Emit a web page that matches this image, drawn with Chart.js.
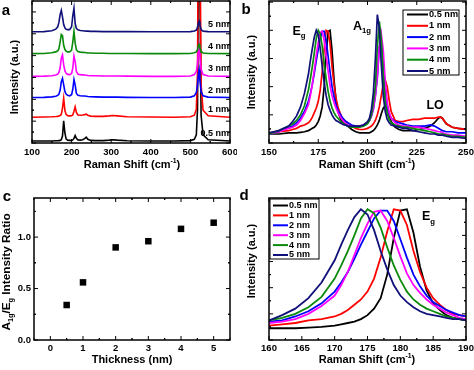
<!DOCTYPE html>
<html>
<head>
<meta charset="utf-8">
<script src="https://cdn.jsdelivr.net/npm/chart.js@4.4.0/dist/chart.umd.min.js"></script>
<style>
  body { margin: 0; background: #fff; width: 474px; height: 370px; position: relative; overflow: hidden; }
  canvas { position: absolute; }
</style>
</head>
<body>
<canvas id="chartA" width="237" height="185" style="left:0;top:0"></canvas>
<canvas id="chartB" width="237" height="185" style="left:237px;top:0"></canvas>
<canvas id="chartC" width="237" height="185" style="left:0;top:185px"></canvas>
<canvas id="chartD" width="237" height="185" style="left:237px;top:185px"></canvas>
<script>
const FONT = '"Liberation Sans", Arial, sans-serif';
const COLORS = ['#000000', '#ff0000', '#0000ff', '#ff00ff', '#0a8a0a', '#10107a'];
const thicknessLabels = ['0.5 nm', '1 nm', '2 nm', '3 nm', '4 nm', '5 nm'];

// panel a: full spectra, stacked
const shiftA = [100, 130, 150, 160, 165, 168, 171, 174, 177, 180, 183, 186, 190, 195, 200,
  203, 206, 209, 212, 216, 222, 228, 233, 237, 241, 248, 260, 280, 295, 305,
  315, 340, 400, 460, 500, 510, 515, 518, 520, 522, 524, 527, 532, 545, 600];
const specA05 = [0.02, 0.02, 0.02, 0.03, 0.03, 0.04, 0.05, 0.08, 0.25, 0.95, 0.4, 0.12, 0.06, 0.05, 0.05,
  0.07, 0.14, 0.27, 0.14, 0.07, 0.06, 0.08, 0.13, 0.2, 0.1, 0.05, 0.04, 0.04, 0.06, 0.08,
  0.06, 0.03, 0.02, 0.02, 0.04, 0.1, 0.3, 1.5, 8, 20, 7, 1.2, 0.3, 0.08, 0.02];
const specA1 = [0.03, 0.04, 0.05, 0.06, 0.07, 0.09, 0.11, 0.16, 0.45, 0.9, 0.35, 0.16, 0.1, 0.09, 0.1,
  0.13, 0.3, 0.5, 0.25, 0.13, 0.12, 0.13, 0.15, 0.17, 0.12, 0.08, 0.07, 0.07, 0.09, 0.11,
  0.09, 0.05, 0.04, 0.03, 0.05, 0.12, 0.4, 2, 10, 20, 9, 1.5, 0.35, 0.1, 0.03];
const specA2 = [0.02, 0.03, 0.05, 0.08, 0.12, 0.18, 0.35, 0.75, 0.9, 0.6, 0.3, 0.18, 0.12, 0.1, 0.15,
  0.4, 0.85, 0.6, 0.22, 0.12, 0.1, 0.09, 0.09, 0.08, 0.07, 0.06, 0.05, 0.04, 0.04, 0.04,
  0.04, 0.03, 0.02, 0.02, 0.04, 0.1, 0.25, 0.6, 1.1, 1.3, 0.8, 0.3, 0.1, 0.04, 0.02];
const specA3 = [0.02, 0.03, 0.05, 0.08, 0.12, 0.2, 0.4, 0.85, 1.0, 0.55, 0.28, 0.16, 0.11, 0.1, 0.15,
  0.4, 0.95, 0.7, 0.25, 0.12, 0.1, 0.09, 0.08, 0.07, 0.06, 0.05, 0.05, 0.04, 0.04, 0.04,
  0.04, 0.03, 0.02, 0.02, 0.04, 0.1, 0.25, 0.6, 1.2, 1.4, 0.9, 0.35, 0.1, 0.04, 0.02];
const specA4 = [0.02, 0.03, 0.06, 0.1, 0.15, 0.25, 0.55, 0.9, 0.85, 0.4, 0.22, 0.14, 0.1, 0.1, 0.18,
  0.55, 1.05, 0.5, 0.2, 0.12, 0.09, 0.08, 0.07, 0.06, 0.05, 0.05, 0.04, 0.04, 0.03, 0.03,
  0.03, 0.03, 0.02, 0.02, 0.03, 0.06, 0.1, 0.2, 0.4, 0.45, 0.3, 0.12, 0.05, 0.03, 0.02];
const specA5 = [0.02, 0.03, 0.07, 0.14, 0.25, 0.45, 0.8, 1.0, 0.7, 0.35, 0.2, 0.14, 0.12, 0.12, 0.25,
  0.75, 1.1, 0.4, 0.18, 0.11, 0.08, 0.07, 0.06, 0.05, 0.05, 0.04, 0.04, 0.03, 0.03, 0.03,
  0.03, 0.03, 0.02, 0.02, 0.03, 0.06, 0.1, 0.22, 0.42, 0.5, 0.32, 0.12, 0.05, 0.03, 0.02];
const offsetsA = [0.07, 1.15, 2.06, 3.03, 4.07, 5.07];

// panels b and d: normalised spectra (Eg peak = 1)
const shiftB = [150, 155, 160, 162, 164, 166, 168, 170, 171, 172, 173, 174, 175, 176, 177,
  178, 179, 180, 181, 182, 183, 184, 185, 186, 187, 188, 189, 190, 192, 194,
  196, 198, 200, 201, 202, 203, 204, 205, 206, 207, 208, 209, 210, 211, 212,
  214, 216, 218, 220, 223, 226, 229, 232, 234, 236, 237, 238, 240, 243, 246, 250];
const specB05 = [0.08, 0.08, 0.09, 0.09, 0.09, 0.095, 0.1, 0.11, 0.12, 0.13, 0.14, 0.16, 0.19, 0.24, 0.32,
  0.5, 0.78, 0.99, 1.0, 0.82, 0.56, 0.38, 0.28, 0.23, 0.19, 0.17, 0.16, 0.15, 0.12, 0.1,
  0.09, 0.09, 0.09, 0.09, 0.1, 0.11, 0.13, 0.16, 0.2, 0.26, 0.31, 0.33, 0.31, 0.25, 0.19,
  0.14, 0.12, 0.11, 0.11, 0.11, 0.12, 0.13, 0.15, 0.18, 0.22, 0.23, 0.22, 0.17, 0.14, 0.13, 0.12];
const specB1 = [0.09, 0.1, 0.11, 0.12, 0.13, 0.15, 0.16, 0.18, 0.2, 0.23, 0.27, 0.31, 0.37, 0.47, 0.63,
  0.83, 1.0, 0.99, 0.88, 0.68, 0.52, 0.4, 0.32, 0.27, 0.23, 0.2, 0.19, 0.18, 0.15, 0.13,
  0.12, 0.12, 0.13, 0.14, 0.15, 0.17, 0.2, 0.25, 0.32, 0.42, 0.52, 0.56, 0.5, 0.38, 0.28,
  0.2, 0.19, 0.19, 0.2, 0.21, 0.21, 0.22, 0.22, 0.22, 0.23, 0.23, 0.22, 0.17, 0.14, 0.13, 0.12];
const specB2 = [0.08, 0.1, 0.14, 0.15, 0.18, 0.22, 0.28, 0.37, 0.44, 0.52, 0.62, 0.73, 0.83, 0.93, 0.99,
  0.99, 0.91, 0.77, 0.63, 0.5, 0.41, 0.34, 0.29, 0.26, 0.23, 0.21, 0.19, 0.18, 0.16, 0.15,
  0.15, 0.16, 0.18, 0.2, 0.24, 0.3, 0.42, 0.58, 0.85, 0.9, 0.72, 0.48, 0.33, 0.26, 0.22,
  0.19, 0.18, 0.17, 0.16, 0.15, 0.15, 0.15, 0.16, 0.15, 0.13, 0.12, 0.11, 0.1, 0.1, 0.09, 0.09];
const specB3 = [0.08, 0.1, 0.13, 0.14, 0.16, 0.2, 0.26, 0.34, 0.42, 0.52, 0.65, 0.78, 0.89, 0.98, 0.99,
  0.91, 0.78, 0.64, 0.51, 0.42, 0.36, 0.31, 0.27, 0.24, 0.21, 0.19, 0.17, 0.16, 0.15, 0.14,
  0.15, 0.16, 0.18, 0.2, 0.24, 0.31, 0.42, 0.6, 0.85, 0.97, 0.82, 0.55, 0.36, 0.27, 0.22,
  0.18, 0.16, 0.15, 0.15, 0.14, 0.14, 0.13, 0.12, 0.11, 0.1, 0.1, 0.09, 0.08, 0.07, 0.07, 0.06];
const specB4 = [0.08, 0.11, 0.15, 0.17, 0.2, 0.25, 0.33, 0.47, 0.57, 0.68, 0.8, 0.93, 1.0, 0.97, 0.86,
  0.71, 0.57, 0.46, 0.37, 0.31, 0.27, 0.24, 0.22, 0.2, 0.18, 0.17, 0.16, 0.15, 0.14, 0.14,
  0.14, 0.15, 0.17, 0.2, 0.25, 0.36, 0.5, 0.85, 1.08, 0.92, 0.6, 0.36, 0.26, 0.21, 0.18,
  0.16, 0.15, 0.14, 0.14, 0.13, 0.12, 0.11, 0.1, 0.09, 0.08, 0.08, 0.08, 0.07, 0.06, 0.06, 0.05];
const specB5 = [0.09, 0.11, 0.15, 0.19, 0.24, 0.32, 0.44, 0.61, 0.73, 0.84, 0.94, 1.0, 0.96, 0.84, 0.68,
  0.54, 0.42, 0.34, 0.29, 0.25, 0.22, 0.2, 0.19, 0.18, 0.17, 0.16, 0.16, 0.15, 0.15, 0.15,
  0.15, 0.16, 0.19, 0.22, 0.3, 0.45, 0.75, 1.14, 1.02, 0.7, 0.42, 0.28, 0.21, 0.18, 0.16,
  0.15, 0.14, 0.13, 0.13, 0.11, 0.1, 0.09, 0.08, 0.08, 0.07, 0.07, 0.07, 0.06, 0.05, 0.05, 0.04];

// panel c: A1g/Eg ratio vs thickness
const thickness = [0.5, 1, 2, 3, 4, 5];
const ratio = [0.34, 0.56, 0.90, 0.96, 1.08, 1.14];

// tick values
const ticksAX = [100, 200, 300, 400, 500, 600];
const ticksAY = [0, 1, 2, 3, 4, 5, 6];
const ticksBX = [150, 175, 200, 225, 250];
const ticksBY = [0, 0.25, 0.5, 0.75, 1.0, 1.25];
const ticksCX = [0, 1, 2, 3, 4, 5];
const ticksCY = [0, 0.5, 1.0];
const ticksDX = [160, 165, 170, 175, 180, 185, 190];
const ticksDY = [0, 0.2, 0.4, 0.6, 0.8, 1.0];

const specsA = [specA05, specA1, specA2, specA3, specA4, specA5];
const specsB = [specB05, specB1, specB2, specB3, specB4, specB5];

// draw text made of pieces; kind '' | 'sub' | 'sup'
function drawRich(ctx, parts, x, y, size, opts = {}) {
  ctx.save();
  ctx.translate(x, y);
  if (opts.rot) ctx.rotate(-Math.PI / 2);
  ctx.fillStyle = '#000';
  ctx.textBaseline = 'middle';
  ctx.textAlign = 'left';
  const fontFor = k => `bold ${k ? size * 0.62 : size}px ${FONT}`;
  const widths = parts.map(([t, k]) => { ctx.font = fontFor(k); return ctx.measureText(t).width; });
  const total = widths.reduce((a, b) => a + b, 0);
  let cx = opts.align === 'right' ? -total : -total / 2;
  parts.forEach(([t, k], i) => {
    ctx.font = fontFor(k);
    const dy = k === 'sub' ? size * 0.38 : k === 'sup' ? -size * 0.35 : 0;
    ctx.fillText(t, cx, dy);
    cx += widths[i];
  });
  ctx.restore();
}

// box round the plot with inward ticks on all four sides
function drawFrame(chart, minorX, minorY) {
  const { ctx, chartArea: a, scales: { x, y } } = chart;
  ctx.save();
  ctx.strokeStyle = '#000';
  ctx.lineWidth = 1;
  ctx.beginPath();
  const tickX = (v, len) => {
    const p = x.getPixelForValue(v);
    if (p < a.left - 0.5 || p > a.right + 0.5) return;
    ctx.moveTo(p, a.bottom); ctx.lineTo(p, a.bottom - len);
    ctx.moveTo(p, a.top); ctx.lineTo(p, a.top + len);
  };
  const tickY = (v, len) => {
    const p = y.getPixelForValue(v);
    if (p < a.top - 0.5 || p > a.bottom + 0.5) return;
    ctx.moveTo(a.left, p); ctx.lineTo(a.left + len, p);
    ctx.moveTo(a.right, p); ctx.lineTo(a.right - len, p);
  };
  x.ticks.forEach(t => { tickX(t.value, 4); tickX(t.value + minorX, 2); tickX(t.value - minorX, 2); });
  y.ticks.forEach(t => { tickY(t.value, 4); tickY(t.value + minorY, 2); tickY(t.value - minorY, 2); });
  ctx.stroke();
  ctx.lineWidth = 1.5;
  ctx.strokeRect(a.left, a.top, a.right - a.left, a.bottom - a.top);
  ctx.restore();
}

function drawLegend(chart, box) {
  const { ctx } = chart;
  ctx.save();
  ctx.fillStyle = '#fff';
  ctx.fillRect(box.left, box.top, box.width, box.height);
  ctx.strokeStyle = '#000';
  ctx.lineWidth = 1;
  ctx.strokeRect(box.left, box.top, box.width, box.height);
  ctx.font = `bold ${box.size}px ${FONT}`;
  ctx.textBaseline = 'middle';
  chart.data.datasets.forEach((ds, i) => {
    const cy = box.top + box.first + i * box.step;
    ctx.strokeStyle = ds.borderColor;
    ctx.lineWidth = 2;
    ctx.beginPath();
    ctx.moveTo(box.left + box.pad, cy);
    ctx.lineTo(box.left + box.pad + box.line, cy);
    ctx.stroke();
    ctx.fillStyle = '#000';
    ctx.fillText(ds.label, box.left + box.pad + box.line + 1, cy);
  });
  ctx.restore();
}

const tickFont = { family: FONT, size: 9.5, weight: 'bold' };

function axis(min, max, tickList, sizeFix, showLabels, pad, fmt) {
  return {
    type: 'linear',
    min: min,
    max: max,
    afterBuildTicks: s => { s.ticks = tickList.map(v => ({ value: v })); },
    afterFit: s => {
      if (s.isHorizontal()) s.height = sizeFix; else s.width = sizeFix;
      s.paddingLeft = 0; s.paddingRight = 0; s.paddingTop = 0; s.paddingBottom = 0;
    },
    ticks: { display: showLabels, font: tickFont, color: '#000', padding: pad, maxRotation: 0, autoSkip: false, callback: fmt },
    grid: { display: false, drawTicks: false },
    border: { display: false }
  };
}

function lineSets(xs, specs, offsets, width) {
  return specs.map((s, k) => ({
    label: thicknessLabels[k],
    data: xs.map((x, i) => ({ x: x, y: s[i] + (offsets ? offsets[k] : 0) })),
    borderColor: COLORS[k],
    borderWidth: width,
    pointRadius: 0,
    tension: 0,
    fill: false,
    order: 10 - k
  }));
}

const common = {
  responsive: false,
  animation: false,
  events: [],
  plugins: { legend: { display: false }, tooltip: { enabled: false } }
};

// ---- a ----
new Chart(document.getElementById('chartA'), {
  type: 'line',
  data: { datasets: lineSets(shiftA, specsA, offsetsA, 1.6) },
  options: {
    ...common,
    layout: { autoPadding: false, padding: { left: 0, top: 1, right: 7, bottom: 0 } },
    scales: {
      x: axis(100, 600, ticksAX, 42, true, 4),
      y: axis(0, 6.5, ticksAY, 32, false, 0)
    }
  },
  plugins: [{
    id: 'decoA',
    afterDraw(chart) {
      const { ctx, chartArea: a, scales: { y } } = chart;
      drawFrame(chart, 50, 0.5);
      thicknessLabels.forEach((t, k) => {
        drawRich(ctx, [[t, '']], a.right - 1, y.getPixelForValue(offsetsA[k] + 0.36), 9, { align: 'right' });
      });
      drawRich(ctx, [['a', '']], 6, 11, 15);
      drawRich(ctx, [['Intensity (a.u.)', '']], 15, 77, 11, { rot: true });
      drawRich(ctx, [['Raman Shift (cm', ''], ['-1', 'sup'], [')', '']], 132, 165, 11);
    }
  }]
});

// ---- b ----
new Chart(document.getElementById('chartB'), {
  type: 'line',
  data: { datasets: lineSets(shiftB, specsB, null, 1.7) },
  options: {
    ...common,
    layout: { autoPadding: false, padding: { left: 0, top: 1, right: 8, bottom: 0 } },
    scales: {
      x: axis(150, 250, ticksBX, 42, true, 3.5),
      y: axis(0, 1.26, ticksBY, 32, false, 0)
    }
  },
  plugins: [{
    id: 'decoB',
    afterDraw(chart) {
      const { ctx, scales: { x, y } } = chart;
      drawFrame(chart, 12.5, 0.125);
      drawRich(ctx, [['E', ''], ['g', 'sub']], x.getPixelForValue(165.2), y.getPixelForValue(0.99), 12.5);
      drawRich(ctx, [['A', ''], ['1g', 'sub']], x.getPixelForValue(197.2), y.getPixelForValue(1.035), 12.5);
      drawRich(ctx, [['LO', '']], x.getPixelForValue(234.3), y.getPixelForValue(0.336), 12.5);
      drawLegend(chart, { left: 166, top: 10, width: 56, height: 65, first: 4.5, step: 11.3, pad: 4, line: 21, size: 9.2 });
      drawRich(ctx, [['b', '']], 9, 10, 15);
      drawRich(ctx, [['Intensity (a.u.)', '']], 15, 72, 11, { rot: true });
      drawRich(ctx, [['Raman Shift (cm', ''], ['-1', 'sup'], [')', '']], 130, 165, 11);
    }
  }]
});

// ---- c ----
new Chart(document.getElementById('chartC'), {
  type: 'scatter',
  data: {
    datasets: [{
      data: thickness.map((t, i) => ({ x: t, y: ratio[i] })),
      backgroundColor: '#000',
      borderWidth: 0,
      pointStyle: 'rect',
      pointRadius: 4.6
    }]
  },
  options: {
    ...common,
    layout: { autoPadding: false, padding: { left: 0, top: 13, right: 7, bottom: 0 } },
    scales: {
      x: axis(-0.5, 5.5, ticksCX, 30, true, 2.5),
      y: axis(0, 1.38, ticksCY, 34, true, 3, v => v.toFixed(1))
    }
  },
  plugins: [{
    id: 'decoC',
    afterDraw(chart) {
      const { ctx } = chart;
      drawFrame(chart, 0.5, 0.25);
      drawRich(ctx, [['c', '']], 7, 12, 15);
      drawRich(ctx, [['A', ''], ['1g', 'sub'], ['/E', ''], ['g', 'sub'], [' Intensity Ratio', '']], 7, 87, 11.8, { rot: true });
      drawRich(ctx, [['Thickness (nm)', '']], 132, 175, 11);
    }
  }]
});

// ---- d ----
new Chart(document.getElementById('chartD'), {
  type: 'line',
  data: { datasets: lineSets(shiftB, specsB, null, 1.8) },
  options: {
    ...common,
    layout: { autoPadding: false, padding: { left: 0, top: 13, right: 8, bottom: 0 } },
    scales: {
      x: axis(160, 190, ticksDX, 30, true, 2.5),
      y: axis(0, 1.086, ticksDY, 32, false, 0)
    }
  },
  plugins: [{
    id: 'decoD',
    afterDraw(chart) {
      const { ctx, scales: { x, y } } = chart;
      drawFrame(chart, 2.5, 0.1);
      drawRich(ctx, [['E', ''], ['g', 'sub']], x.getPixelForValue(184.3), y.getPixelForValue(0.943), 12.5);
      drawLegend(chart, { left: 33, top: 14, width: 49, height: 60, first: 6.5, step: 9.9, pad: 3, line: 15, size: 9 });
      drawRich(ctx, [['d', '']], 7, 11, 15);
      drawRich(ctx, [['Intensity (a.u.)', '']], 15, 76, 11, { rot: true });
      drawRich(ctx, [['Raman Shift (cm', ''], ['-1', 'sup'], [')', '']], 130, 175, 11);
    }
  }]
});
</script>
</body>
</html>
